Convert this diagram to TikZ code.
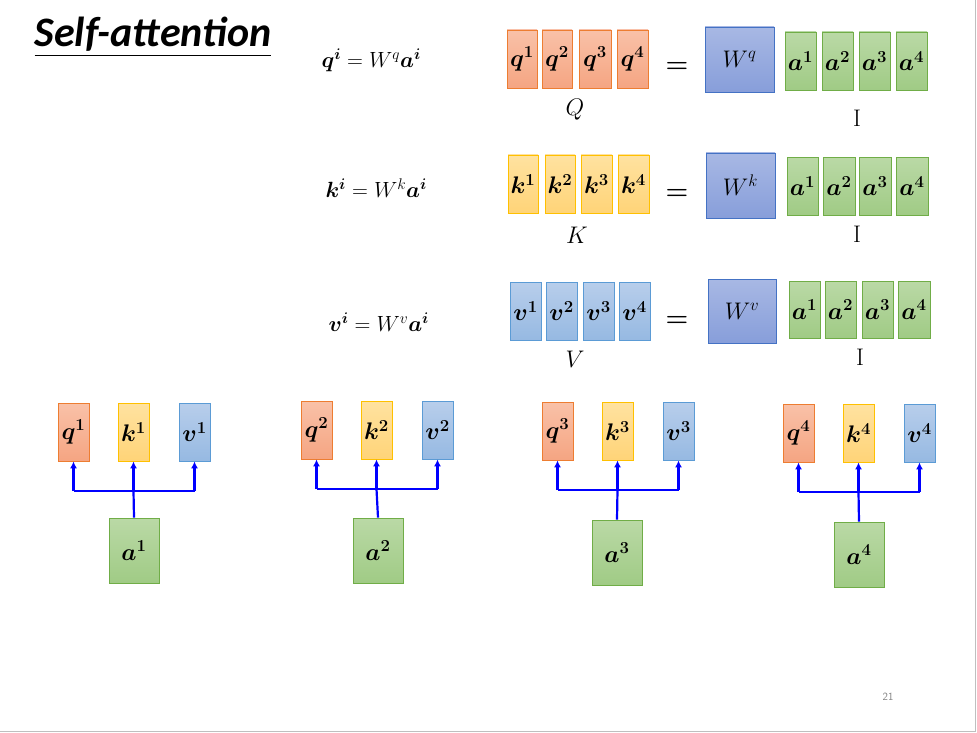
\RequirePackage{fix-cm}
\documentclass[tikz,border=0pt]{standalone}
\usepackage{amsmath,bm}
\usepackage{fontspec}
\newfontfamily\titlefont{Carlito}
\usetikzlibrary{arrows.meta}
\definecolor{qT}{RGB}{249,193,168}\definecolor{qB}{RGB}{245,165,130}\definecolor{qD}{RGB}{237,125,49}
\definecolor{kT}{RGB}{255,226,160}\definecolor{kB}{RGB}{255,212,120}\definecolor{kD}{RGB}{255,192,0}
\definecolor{vT}{RGB}{184,206,235}\definecolor{vB}{RGB}{150,185,226}\definecolor{vD}{RGB}{91,155,213}
\definecolor{aT}{RGB}{186,217,166}\definecolor{aB}{RGB}{160,203,133}\definecolor{aD}{RGB}{112,173,71}
\definecolor{wT}{RGB}{168,184,228}\definecolor{wB}{RGB}{135,158,218}\definecolor{wD}{RGB}{68,114,196}
\tikzset{
 bx/.style={draw,line width=0.8pt,inner sep=0pt,font=\fontsize{24}{24}\selectfont},
 qb/.style={bx,draw=qD,top color=qT,bottom color=qB},
 kb/.style={bx,draw=kD,top color=kT,bottom color=kB},
 vb/.style={bx,draw=vD,top color=vT,bottom color=vB},
 ab/.style={bx,draw=aD,top color=aT,bottom color=aB},
 wb/.style={bx,draw=wD,top color=wT,bottom color=wB},
 lbl/.style={font=\fontsize{24}{24}\selectfont},
 eqs/.style={font=\fontsize{22}{22}\selectfont,anchor=west},
 arr/.style={draw=blue,line width=2.2pt,-{Latex[length=7pt,width=7pt]}},
 ln/.style={draw=blue,line width=2.2pt},
}
\newcommand\bxx[6]{\node[#1,minimum width={(#4)-(#3)},minimum height={(#6)-(#5)}] (#2) at ({((#3)+(#4))/2},{((#5)+(#6))/2})}
\begin{document}
\begin{tikzpicture}[x=1pt,y=-1pt]
\useasboundingbox (0,0) rectangle (977,733);
\draw[gray!50,line width=1pt] (975.5,0) -- (975.5,731.5) -- (0,731.5);
\node[anchor=west,font=\titlefont\bfseries\itshape\fontsize{42}{42}\selectfont] (title) at (31,37) {\underline{Self-attention}};
\node[eqs] (eq1) at (318,60) {$\bm{q^i}=W^q\bm{a^i}$};
\node[eqs] (eq2) at (322,188) {$\bm{k^i}=W^k\bm{a^i}$};
\node[eqs] (eq3) at (325,322) {$\bm{v^i}=W^v\bm{a^i}$};
% Q row
\bxx{qb}{q1}{507}{537}{30}{88}{$\bm{q^1}$};
\bxx{qb}{q2}{542}{572}{30}{88}{$\bm{q^2}$};
\bxx{qb}{q3}{579}{611}{30}{88}{$\bm{q^3}$};
\bxx{qb}{q4}{617}{648}{30}{88}{$\bm{q^4}$};
\node[lbl] (Q) at (575,110) {$Q$};
\node[font=\bfseries\fontsize{26}{26}\selectfont] (e1) at (677,67) {=};
\bxx{wb}{wq}{705}{774}{27}{92}{$W^q$};
\bxx{ab}{a11}{785}{816}{32}{90}{$\bm{a^1}$};
\bxx{ab}{a12}{822}{853}{32}{90}{$\bm{a^2}$};
\bxx{ab}{a13}{859}{890}{32}{90}{$\bm{a^3}$};
\bxx{ab}{a14}{896}{927}{32}{90}{$\bm{a^4}$};
\node[lbl] (I1) at (857,118) {I};
% K row
\bxx{kb}{k1}{508}{538}{155}{213}{$\bm{k^1}$};
\bxx{kb}{k2}{545}{575}{155}{213}{$\bm{k^2}$};
\bxx{kb}{k3}{581}{612}{155}{213}{$\bm{k^3}$};
\bxx{kb}{k4}{618}{649}{155}{213}{$\bm{k^4}$};
\node[lbl] (K) at (577,235) {$K$};
\node[font=\bfseries\fontsize{26}{26}\selectfont] (e2) at (677,194) {=};
\bxx{wb}{wk}{706}{775}{153}{218}{$W^k$};
\bxx{ab}{a21}{787}{818}{157}{215}{$\bm{a^1}$};
\bxx{ab}{a22}{823}{855}{157}{215}{$\bm{a^2}$};
\bxx{ab}{a23}{859}{891}{157}{215}{$\bm{a^3}$};
\bxx{ab}{a24}{896}{928}{157}{215}{$\bm{a^4}$};
\node[lbl] (I2) at (857,234) {I};
% V row
\bxx{vb}{v1}{510}{541}{282}{340}{$\bm{v^1}$};
\bxx{vb}{v2}{546}{577}{282}{340}{$\bm{v^2}$};
\bxx{vb}{v3}{583}{614}{282}{340}{$\bm{v^3}$};
\bxx{vb}{v4}{619}{650}{282}{340}{$\bm{v^4}$};
\node[lbl] (V) at (575,359) {$V$};
\node[font=\bfseries\fontsize{26}{26}\selectfont] (e3) at (677,321) {=};
\bxx{wb}{wv}{708}{776}{279}{343}{$W^v$};
\bxx{ab}{a31}{789}{820}{281}{338}{$\bm{a^1}$};
\bxx{ab}{a32}{825}{856}{281}{338}{$\bm{a^2}$};
\bxx{ab}{a33}{862}{893}{281}{338}{$\bm{a^3}$};
\bxx{ab}{a34}{898}{930}{281}{338}{$\bm{a^4}$};
\node[lbl] (I3) at (860,357) {I};
% bottom groups
\newcommand\grp[6]{%
\bxx{qb}{gq#1}{#2}{#2+31}{#4}{#4+58}{$\bm{q^#1}$};
\bxx{kb}{gk#1}{#2+60}{#2+91}{#4}{#4+58}{$\bm{k^#1}$};
\bxx{vb}{gv#1}{#2+121}{#2+152}{#4}{#4+58}{$\bm{v^#1}$};
\bxx{ab}{ga#1}{#3}{#3+50}{#5}{#5+65}{$\bm{a^#1}$};
\coordinate (hl#1) at (gq#1.south |- 0,#6);
\coordinate (hr#1) at (gv#1.south |- 0,#6);
\coordinate (hm#1) at (gk#1.south |- 0,#6);
\draw[ln] (ga#1.north) -- (hm#1);
\draw[ln] (hl#1) -- (hr#1);
\draw[arr] (hl#1) -- (gq#1.south);
\draw[arr] (hm#1) -- (gk#1.south);
\draw[arr] (hr#1) -- (gv#1.south);
}
\grp{1}{58}{109}{403}{518}{491}
\grp{2}{301}{353}{401}{518}{489}
\grp{3}{542}{592}{402}{520}{490}
\grp{4}{783}{834}{404}{522}{492}
\node[text=gray,font=\sffamily\fontsize{11}{11}\selectfont] (pg) at (888,697) {21};
\end{tikzpicture}
\end{document}
